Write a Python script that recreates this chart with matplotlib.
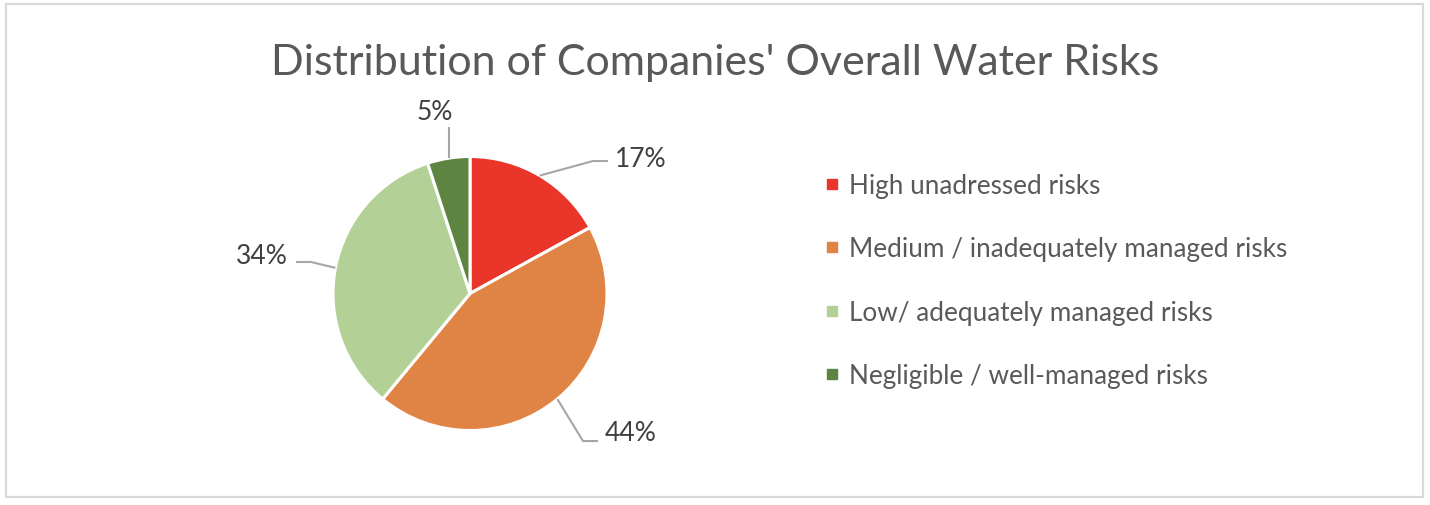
#!/usr/bin/env python

'''Pie chart of companies' overall water risks'''

import numpy as np
import matplotlib
matplotlib.use('Agg')
from matplotlib.pyplot import figure
from matplotlib.lines import Line2D
from matplotlib.patches import Rectangle

categories = ['High unadressed risks',
              'Medium / inadequately managed risks',
              'Low/ adequately managed risks',
              'Negligible / well-managed risks']
shares = [17, 44, 34, 5]
share_labels = ['17%', '44%', '34%', '5%']
colours = ['#E9352A', '#E08445', '#B3D197', '#5E8441']

# label layout in pie units (radius = 1): elbow of leader, end of leader, text anchor
layout = [
    dict(elbow=(0.898, 0.967), end=(1.007, 0.967), text=(1.058, 0.982), ha='left'),
    dict(elbow=(0.825, -1.077), end=(0.934, -1.077), text=(0.985, -1.018), ha='left'),
    dict(elbow=(-1.161, 0.230), end=(-1.270, 0.230), text=(-1.328, 0.281), ha='right'),
    dict(elbow=(-0.168, 1.215), end=(-0.168, 1.215), text=(-0.255, 1.332), ha='center'),
]

W, H = 1430, 506
R = 137          # pie radius in pixels
CX, CY = 470, 294.5
L = 1.5          # half width of pie axes, in radii

font = 'Lato'
grey_text = '#595959'
dark_text = '#404040'
leader = '#A6A6A6'

fig = figure(figsize=(W / 100, H / 100), dpi=100)
fig.patch.set_facecolor('white')

fig.patches.append(Rectangle((6 / W, 8 / H), 1417 / W, 493 / H, transform=fig.transFigure,
                             fill=False, edgecolor='#D9D9D9', linewidth=1.6))

side = 2 * L * R
ax = fig.add_axes([(CX - side / 2) / W, (H - CY - side / 2) / H, side / W, side / H])
wedges, _ = ax.pie(shares, colors=colours, startangle=90, counterclock=False,
                   radius=1, wedgeprops=dict(edgecolor='white', linewidth=2.2))
ax.set_xlim(-L, L)
ax.set_ylim(-L, L)
ax.set_aspect('equal')
ax.axis('off')

for w, lab, lay in zip(wedges, share_labels, layout):
    theta = np.deg2rad((w.theta1 + w.theta2) / 2)
    x0, y0 = np.cos(theta), np.sin(theta)
    ex, ey = lay['elbow']
    if lay['ha'] == 'center':
        ex = x0
    xs = [x0, ex, lay['end'][0] if lay['ha'] != 'center' else ex]
    ys = [y0, ey, lay['end'][1]]
    ax.plot(xs, ys, color=leader, linewidth=1.5, clip_on=False, solid_capstyle='butt')
    ax.text(lay['text'][0], lay['text'][1], lab, ha=lay['ha'], va='center',
            fontsize=19, color=dark_text, family=font)

fig.text(715 / W, 1 - 75 / H, "Distribution of Companies' Overall Water Risks",
         ha='center', va='baseline', fontsize=31, color=grey_text, family=font)

handles = [Line2D([], [], linestyle='none', marker='s', markersize=7,
                  markerfacecolor=c, markeredgecolor=c) for c in colours]
fig.legend(handles, categories, loc='upper left',
           bbox_to_anchor=(823 / W, 1 - 174 / H), frameon=False,
           prop=dict(family=font, size=18.8), labelcolor=grey_text,
           handlelength=0.7, handletextpad=0.28, labelspacing=1.47,
           borderaxespad=0, borderpad=0)

fig.savefig('out.png', dpi=100)
